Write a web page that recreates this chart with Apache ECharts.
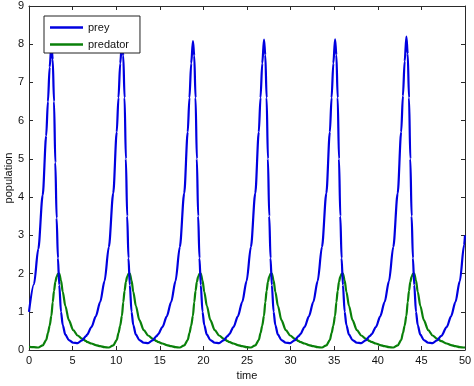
<!DOCTYPE html>
<html>
<head>
<meta charset="utf-8">
<script src="https://cdn.jsdelivr.net/npm/echarts@6/dist/echarts.min.js"></script>
<style>
html,body{margin:0;padding:0;background:#fff;}
#chart{width:474px;height:386px;}
</style>
</head>
<body>
<div id="chart"></div>
<script>
// time samples
const time = [
  0, 0.57, 1.07, 1.57, 1.97, 2.17, 2.37, 2.57, 2.72, 2.87, 3.02, 3.17, 3.32, 3.47, 3.67, 3.87, 4.17, 4.57, 5.07, 5.57, 6.07, 6.57,
  6.66, 7.16, 7.66, 8.16, 8.66, 9.16, 9.66, 10.06, 10.26, 10.46, 10.66, 10.81, 10.96, 11.11, 11.26, 11.41, 11.56, 11.76, 11.96, 12.26, 12.66, 13.16, 13.66, 14.16, 14.66,
  14.8, 15.3, 15.8, 16.3, 16.8, 17.3, 17.8, 18.2, 18.4, 18.6, 18.8, 18.95, 19.1, 19.25, 19.4, 19.55, 19.7, 19.9, 20.1, 20.4, 20.8, 21.3, 21.8, 22.3, 22.8,
  22.95, 23.45, 23.95, 24.45, 24.95, 25.45, 25.95, 26.35, 26.55, 26.75, 26.95, 27.1, 27.25, 27.4, 27.55, 27.7, 27.85, 28.05, 28.25, 28.55, 28.95, 29.45, 29.95, 30.45, 30.95,
  31.1, 31.6, 32.1, 32.6, 33.1, 33.6, 34.1, 34.5, 34.7, 34.9, 35.1, 35.25, 35.4, 35.55, 35.7, 35.85, 36.0, 36.2, 36.4, 36.7, 37.1, 37.6, 38.1, 38.6, 39.1,
  39.28, 39.78, 40.28, 40.78, 41.28, 41.78, 42.28, 42.68, 42.88, 43.08, 43.28, 43.43, 43.58, 43.73, 43.88, 44.03, 44.18, 44.38, 44.58, 44.88, 45.28, 45.78, 46.28, 46.78, 47.28,
  47.9, 48.4, 48.9, 49.4, 49.9, 50.0
];
const prey = [
  1.0, 1.72, 2.65, 4.05, 5.6, 6.5, 7.4, 8.0, 7.6, 6.5, 4.9, 3.45, 2.4, 1.7, 1.0, 0.65, 0.4, 0.26, 0.19, 0.18, 0.25, 0.37,
  0.4, 0.6, 0.88, 1.25, 1.8, 2.7, 4.1, 5.7, 6.6, 7.5, 8.05, 7.7, 6.6, 5.0, 3.5, 2.4, 1.7, 1.0, 0.65, 0.4, 0.26, 0.19, 0.18, 0.25, 0.37,
  0.41, 0.6, 0.88, 1.25, 1.8, 2.7, 4.1, 5.7, 6.6, 7.5, 8.08, 7.7, 6.6, 5.0, 3.5, 2.4, 1.7, 1.0, 0.65, 0.4, 0.26, 0.19, 0.18, 0.25, 0.37,
  0.41, 0.6, 0.88, 1.25, 1.8, 2.7, 4.1, 5.7, 6.6, 7.5, 8.12, 7.72, 6.6, 5.0, 3.5, 2.4, 1.7, 1.0, 0.65, 0.4, 0.26, 0.19, 0.18, 0.25, 0.37,
  0.41, 0.6, 0.88, 1.25, 1.8, 2.7, 4.1, 5.7, 6.6, 7.5, 8.13, 7.72, 6.6, 5.0, 3.5, 2.4, 1.7, 1.0, 0.65, 0.4, 0.26, 0.19, 0.18, 0.25, 0.37,
  0.41, 0.6, 0.88, 1.25, 1.8, 2.7, 4.1, 5.7, 6.65, 7.55, 8.2, 7.75, 6.6, 5.0, 3.5, 2.4, 1.7, 1.0, 0.65, 0.4, 0.26, 0.19, 0.18, 0.25, 0.37,
  0.6, 0.88, 1.25, 1.8, 2.75, 3.0
];
const predator = [
  0.08, 0.075, 0.065, 0.12, 0.26, 0.44, 0.64, 0.9, 1.25, 1.55, 1.78, 1.92, 1.99, 2.0, 1.82, 1.52, 1.15, 0.78, 0.52, 0.38, 0.3, 0.23,
  0.21, 0.17, 0.13, 0.1, 0.075, 0.065, 0.12, 0.26, 0.44, 0.64, 0.9, 1.25, 1.55, 1.78, 1.92, 1.99, 2.0, 1.82, 1.52, 1.15, 0.78, 0.52, 0.38, 0.3, 0.23,
  0.21, 0.17, 0.13, 0.1, 0.075, 0.065, 0.12, 0.26, 0.44, 0.64, 0.9, 1.25, 1.55, 1.78, 1.92, 1.99, 2.0, 1.82, 1.52, 1.15, 0.78, 0.52, 0.38, 0.3, 0.23,
  0.21, 0.17, 0.13, 0.1, 0.075, 0.065, 0.12, 0.26, 0.44, 0.64, 0.9, 1.25, 1.55, 1.78, 1.92, 1.99, 2.0, 1.82, 1.52, 1.15, 0.78, 0.52, 0.38, 0.3, 0.23,
  0.21, 0.17, 0.13, 0.1, 0.075, 0.065, 0.12, 0.26, 0.44, 0.64, 0.9, 1.25, 1.55, 1.78, 1.92, 1.99, 2.0, 1.82, 1.52, 1.15, 0.78, 0.52, 0.38, 0.3, 0.23,
  0.21, 0.17, 0.13, 0.1, 0.075, 0.065, 0.12, 0.26, 0.44, 0.64, 0.9, 1.25, 1.55, 1.78, 1.92, 1.99, 2.0, 1.82, 1.52, 1.15, 0.78, 0.52, 0.38, 0.3, 0.23,
  0.17, 0.13, 0.1, 0.075, 0.065, 0.068
];
const seriesNames = ['prey', 'predator'];
const xRange = [0, 50, 5];
const yRange = [0, 9, 1];

const FONT = '"Liberation Sans", Arial, sans-serif';
const AX = '#2a2a2a';

const chart = echarts.init(document.getElementById('chart'), null, {renderer: 'canvas'});

function axisBase(extra) {
  return Object.assign({
    type: 'value',
    axisLine: {show: true, onZero: false, lineStyle: {color: AX, width: 1}},
    axisTick: {show: true, inside: true, length: 4, lineStyle: {color: AX}},
    splitLine: {show: false},
    axisLabel: {color: '#111', fontSize: 11, fontFamily: FONT, margin: 5}
  }, extra);
}

chart.setOption({
  animation: false,
  backgroundColor: '#fff',
  grid: {left: 29, right: 9, top: 6, bottom: 36, containLabel: false, outerBoundsMode: 'none'},
  xAxis: [
    axisBase({min: xRange[0], max: xRange[1], interval: xRange[2], position: 'bottom',
      name: 'time', nameLocation: 'middle', nameGap: 20, nameMoveOverlap: false,
      nameTextStyle: {color: '#111', fontSize: 11, fontFamily: FONT}}),
    axisBase({min: xRange[0], max: xRange[1], interval: xRange[2], position: 'top',
      axisLabel: {show: false}})
  ],
  yAxis: [
    axisBase({min: yRange[0], max: yRange[1], interval: yRange[2], position: 'left',
      name: 'population', nameLocation: 'middle', nameGap: 15, nameRotate: 90, nameMoveOverlap: false,
      nameTextStyle: {color: '#111', fontSize: 11, fontFamily: FONT}}),
    axisBase({min: yRange[0], max: yRange[1], interval: yRange[2], position: 'right',
      axisLabel: {show: false}})
  ],
  legend: {
    orient: 'vertical',
    left: 44, top: 16,
    padding: [5, 11, 2, 6],
    itemGap: 4,
    itemWidth: 33, itemHeight: 2.5,
    icon: 'rect',
    backgroundColor: '#fff',
    borderColor: '#222', borderWidth: 1, borderRadius: 0,
    textStyle: {color: '#111', fontSize: 11, fontFamily: FONT, lineHeight: 13},
    data: seriesNames
  },
  series: [
    {
      name: seriesNames[0], type: 'line', showSymbol: false, symbol: 'none',
      smooth: 0.3, smoothMonotone: 'x',
      lineStyle: {color: '#0000e0', width: 2.2},
      itemStyle: {color: '#0000e0'},
      data: time.map((t, i) => [t, prey[i]]),
      z: 3
    },
    {
      name: seriesNames[1], type: 'line', showSymbol: false, symbol: 'none',
      smooth: 0.3, smoothMonotone: 'x',
      lineStyle: {color: '#0a800a', width: 2.2},
      itemStyle: {color: '#0a800a'},
      data: time.map((t, i) => [t, predator[i]]),
      z: 2
    }
  ]
});
</script>
</body>
</html>
